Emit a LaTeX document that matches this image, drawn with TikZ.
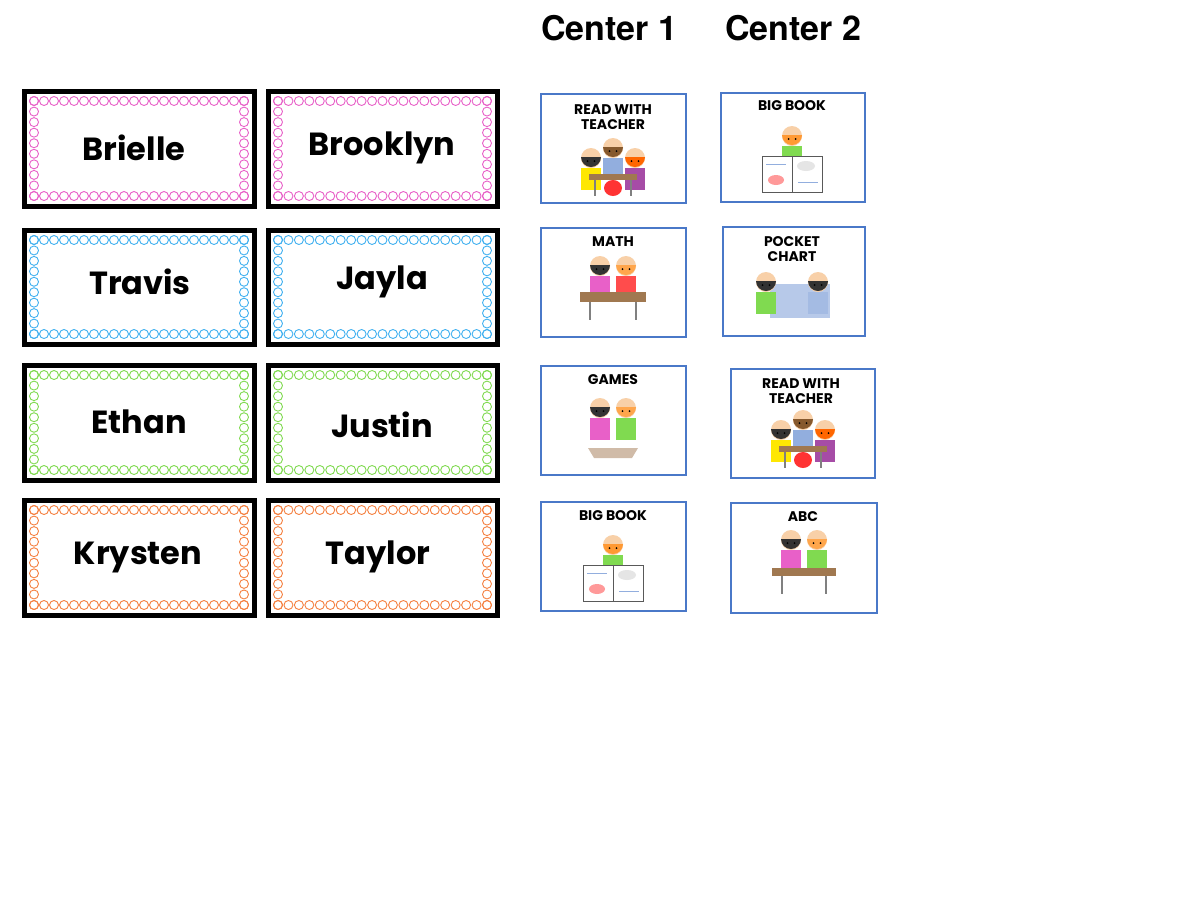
\documentclass[tikz,border=0pt]{standalone}
\usepackage{fontspec}
\setmainfont{Poppins}
\newfontfamily\hdfont{TeX Gyre Heros}
\definecolor{pk}{HTML}{E860C8}
\definecolor{bl}{HTML}{40B0F0}
\definecolor{gr}{HTML}{80DA50}
\definecolor{or}{HTML}{F58040}
\definecolor{cb}{HTML}{4A78C8}
\definecolor{skin}{HTML}{F8D0A8}
\definecolor{tbl}{HTML}{A07850}
\begin{document}
\begin{tikzpicture}[x=1pt,y=-1pt,
  namecard/.style={draw=black,line width=5pt,fill=white},
  nametext/.style={font=\fontsize{32}{36}\selectfont\bfseries},
  centercard/.style={draw=cb,line width=2.6pt,fill=white},
  ctext/.style={font=\fontsize{14}{15}\selectfont\bfseries,align=center},
  hd/.style={font=\hdfont\fontsize{34}{38}\selectfont\bfseries}]
\useasboundingbox (0,0) rectangle (1200,914);
\fill[white] (0,0) rectangle (1200,914);
\newcommand\kidicon[4]{% x y shirt hair
  \fill[#3] (#1-10,#2+10) rectangle (#1+10,#2+32);
  \fill[skin] (#1,#2) circle (10);
  \fill[#4] (#1-10,#2-1) arc (180:0:10) -- cycle;
  \fill[black] (#1-3.5,#2+3) circle (1) (#1+3.5,#2+3) circle (1);}
\newcommand\namecardd[5]{% x1 y1 x2 y2 color
  \draw[namecard] (#1,#2) rectangle (#3,#4);
  \pgfmathsetmacro\ax{#1+10}\pgfmathsetmacro\bx{#3-10}
  \pgfmathsetmacro\ay{#2+10}\pgfmathsetmacro\by{#4-10}
  \pgfmathsetmacro\nx{int((\bx-\ax)/10)}\pgfmathsetmacro\ny{int((\by-\ay)/10)}
  \foreach \i in {0,...,\nx}{\pgfmathsetmacro\xx{\ax+\i*(\bx-\ax)/\nx}
    \draw[#5,line width=0.9pt] (\xx,\ay) circle (4.5) (\xx,\by) circle (4.5);}
  \foreach \i in {0,...,\ny}{\pgfmathsetmacro\yy{\ay+\i*(\by-\ay)/\ny}
    \draw[#5,line width=0.9pt] (\ax,\yy) circle (4.5) (\bx,\yy) circle (4.5);}}
\node[hd] (h1) at (609,28) {Center 1};
\node[hd] (h2) at (793,28) {Center 2};
\namecardd{24}{91}{254}{206}{pk}\node[nametext] (n1) at (134,148) {Brielle};
\namecardd{268}{91}{497}{206}{pk}\node[nametext] (n2) at (382,148) {Brooklyn};
\namecardd{24}{230}{254}{344}{bl}\node[nametext] (n3) at (140,282) {Travis};
\namecardd{268}{230}{497}{344}{bl}\node[nametext] (n4) at (382,282) {Jayla};
\namecardd{24}{365}{254}{480}{gr}\node[nametext] (n5) at (139,422) {Ethan};
\namecardd{268}{365}{497}{480}{gr}\node[nametext] (n6) at (382,425) {Justin};
\namecardd{24}{500}{254}{615}{or}\node[nametext] (n7) at (138,557) {Krysten};
\namecardd{268}{500}{497}{615}{or}\node[nametext] (n8) at (378,557) {Taylor};
\newcommand\readteacher[2]{%
  \kidicon{#1}{#2}{cb!60}{brown!70!black}
  \kidicon{#1-22}{#2+10}{yellow!90!orange}{black!80}
  \kidicon{#1+22}{#2+10}{violet!70}{orange!80!red}
  \fill[tbl] (#1-24,#2+26) rectangle (#1+24,#2+32);
  \fill[red!80] (#1,#2+40) ellipse (9 and 8);
  \draw[gray,line width=2pt] (#1-18,#2+32) -- (#1-18,#2+48) (#1+18,#2+32) -- (#1+18,#2+48);}
\newcommand\bigbook[2]{%
  \kidicon{#1}{#2}{gr}{orange!80}
  \fill[white] (#1-30,#2+20) rectangle (#1+30,#2+56);
  \draw[gray!70!black,line width=1pt] (#1-30,#2+20) rectangle (#1+30,#2+56) (#1,#2+20) -- (#1,#2+56);
  \fill[pink!80!red] (#1-16,#2+44) ellipse (8 and 5);
  \fill[gray!20] (#1+14,#2+30) ellipse (9 and 5);
  \draw[cb!60] (#1-26,#2+28) -- (#1-6,#2+28) (#1+6,#2+46) -- (#1+26,#2+46);}
\newcommand\twokids[3]{%
  \kidicon{#1-13}{#2}{pk}{black!80}
  \kidicon{#1+13}{#2}{#3}{orange!70}}
\draw[centercard] (541,94) rectangle (686,203);
\node[ctext] (c1) at (613,117) {READ WITH\\TEACHER};
\readteacher{613}{148}
\draw[centercard] (541,228) rectangle (686,337);
\node[ctext] (c2) at (613,242) {MATH};
\twokids{613}{266}{red!70}\fill[tbl] (580,292) rectangle (646,302);
\draw[gray,line width=2pt] (590,302) -- (590,320) (636,302) -- (636,320);
\draw[centercard] (541,366) rectangle (686,475);
\node[ctext] (c3) at (613,380) {GAMES};
\twokids{613}{408}{gr}\fill[tbl!50] (588,448) -- (638,448) -- (632,458) -- (594,458) -- cycle;
\draw[centercard] (541,502) rectangle (686,611);
\node[ctext] (c4) at (613,516) {BIG BOOK};
\bigbook{613}{545}
\draw[centercard] (721,93) rectangle (865,202);
\node[ctext] (d1) at (792,106) {BIG BOOK};
\bigbook{792}{136}
\draw[centercard] (723,227) rectangle (865,336);
\node[ctext] (d2) at (792,249) {POCKET\\CHART};
\fill[cb!40] (770,284) rectangle (830,318);
\kidicon{766}{282}{gr}{black!80}\kidicon{818}{282}{cb!50}{black!80}
\draw[centercard] (731,369) rectangle (875,478);
\node[ctext] (d3) at (801,391) {READ WITH\\TEACHER};
\readteacher{803}{420}
\draw[centercard] (731,503) rectangle (877,613);
\node[ctext] (d4) at (803,517) {ABC};
\twokids{804}{540}{gr}\fill[tbl] (772,568) rectangle (836,576);
\draw[gray,line width=2pt] (782,576) -- (782,594) (826,576) -- (826,594);
\end{tikzpicture}
\end{document}
